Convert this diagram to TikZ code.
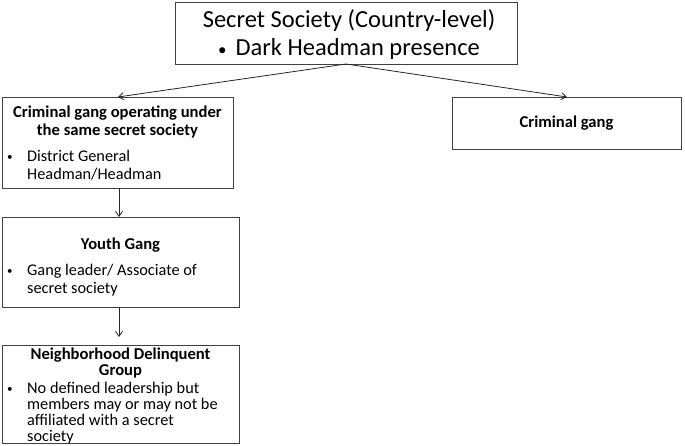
\documentclass[tikz,border=0pt]{standalone}
\usepackage{fontspec}
\setmainfont{Carlito}
\usetikzlibrary{arrows.meta}
\tikzset{
  box/.style={draw=black!75, line width=0.9pt, anchor=north west, inner sep=0pt},
  txt/.style={inner sep=0pt, anchor=center, align=center},
  btxt/.style={inner sep=0pt, anchor=north west, align=left},
  conn/.style={draw=black!85, line width=0.8pt, -{Straight Barb[length=5pt,width=7pt]}}
}
\newcommand{\smbul}{\raisebox{0.1ex}{\fontsize{11}{11}\selectfont •}}
\newcommand{\bulitem}[2]{\makebox[20pt][l]{\smbul}\parbox[t]{#1}{\raggedright #2}}
\begin{document}
\begin{tikzpicture}[x=1pt,y=1pt]
\useasboundingbox (0,0) rectangle (685,-445);
% boxes
\node[box, minimum width=342, minimum height=62] (top) at (175,-2) {};
\node[box, minimum width=231, minimum height=91] (cg) at (2,-97) {};
\node[box, minimum width=229, minimum height=52] (crim) at (452,-97) {};
\node[box, minimum width=237, minimum height=90] (yg) at (2,-217) {};
\node[box, minimum width=237, minimum height=98] (nd) at (2,-345) {};
% texts
\node[txt, font=\fontsize{24.5}{28}\selectfont] (toptxt) at (349,-35) {Secret Society (Country-level)\\{\fontsize{17}{17}\selectfont •}\hspace{9pt}Dark Headman presence};
\node[txt, font=\bfseries\fontsize{16.6}{18}\selectfont] (cghead) at (117.5,-122) {Criminal gang operating under\\the same secret society};
\node[btxt, font=\fontsize{16.3}{18}\selectfont] (cgbul) at (7,-150) {\bulitem{200pt}{District General\\Headman/Headman}};
\node[txt, font=\bfseries\fontsize{16.6}{18}\selectfont] (crimtxt) at (566.5,-123) {Criminal gang};
\node[txt, font=\bfseries\fontsize{16.6}{18}\selectfont] (yghead) at (120.5,-245) {Youth Gang};
\node[btxt, font=\fontsize{16.3}{17.5}\selectfont] (ygbul) at (7,-264) {\bulitem{210pt}{Gang leader/ Associate of\\secret society}};
\node[txt, font=\bfseries\fontsize{16.6}{16}\selectfont] (ndhead) at (120.5,-363) {Neighborhood Delinquent\\Group};
\node[btxt, font=\fontsize{16.3}{16}\selectfont] (ndbul) at (7,-382) {\bulitem{212pt}{No defined leadership but\\members may or may not be\\affiliated with a secret\\society}};
% connectors
\coordinate (topb) at (346,-64);
\draw[conn] (topb) -- (cg.north);
\draw[conn] (topb) -- (crim.north);
\draw[conn] (119,-188) -- (119,-217);
\draw[conn] (119,-307) -- (119,-337);
\end{tikzpicture}
\end{document}
